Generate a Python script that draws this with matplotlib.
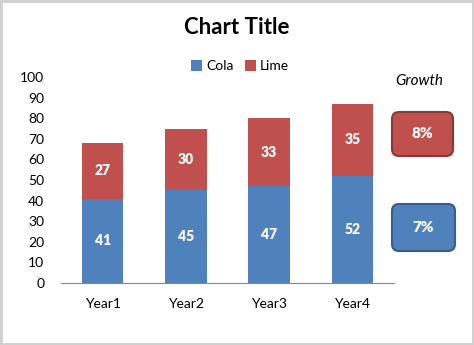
import matplotlib
matplotlib.use("Agg")
from matplotlib import pyplot as plt
from matplotlib.patches import FancyBboxPatch, Rectangle
import numpy as np

plt.rcParams['font.family'] = ['Lato', 'DejaVu Sans']

# chart data
years = ["Year1", "Year2", "Year3", "Year4"]
cola = [41, 45, 47, 52]
lime = [27, 30, 33, 35]
growth_lime = "8%"
growth_cola = "7%"

blue = "#4F81BD"
red = "#C0504D"

fig = plt.figure(figsize=(4.74, 3.45), dpi=100)
ax = fig.add_axes([61 / 474, 1 - 283 / 345, 333 / 474, 206 / 345])

x = np.arange(len(years))
b1 = ax.bar(x, cola, width=0.5, color=blue, label="Cola")
b2 = ax.bar(x, lime, width=0.5, bottom=cola, color=red, label="Lime")
ax.bar_label(b1, label_type="center", color="white", fontweight="heavy", fontsize=10)
ax.bar_label(b2, label_type="center", color="white", fontweight="heavy", fontsize=10)

ax.set_xlim(-0.5, len(years) - 0.5)
ax.set_ylim(0, 100)
ax.set_yticks(range(0, 101, 10))
ax.set_xticks(x, years)
ax.tick_params(axis="both", length=0, labelsize=10)
ax.tick_params(axis="y", pad=12)
ax.tick_params(axis="x", pad=11)
for s in ["left", "right", "top"]:
    ax.spines[s].set_visible(False)
ax.spines["bottom"].set_color("#868686")

fig.text(0.5, 1 - 28 / 345, "Chart Title", ha="center", va="center", fontsize=16, fontweight="bold")
fig.legend(handles=[b1, b2], labels=["Cola", "Lime"], loc="center", bbox_to_anchor=(240 / 474, 1 - 66 / 345),
           ncol=2, frameon=False, fontsize=10, handlelength=0.8, handleheight=0.8, handletextpad=0.3,
           columnspacing=0.8)

# growth boxes on the right (pixel coords -> inches)
def px_box(x0, y0, x1, y1, fc, ec, txt):
    h = 3.45
    p = FancyBboxPatch((x0 / 100, h - y1 / 100), (x1 - x0) / 100, (y1 - y0) / 100,
                       boxstyle="round,pad=0,rounding_size=0.07", fc=fc, ec=ec, lw=1.5,
                       transform=fig.dpi_scale_trans)
    fig.patches.append(p)
    fig.text((x0 + x1) / 2 / 474, 1 - (y0 + y1) / 2 / 345, txt, ha="center", va="center",
             color="white", fontweight="heavy", fontsize=11)

fig.text(419 / 474, 1 - 81 / 345, "Growth", ha="center", va="center", fontsize=11, style="italic")
px_box(392, 112, 453, 156, red, "#8C3836", growth_lime)
px_box(392, 204, 455, 251, blue, "#385D8A", growth_cola)

fig.patches.append(Rectangle((0, 0), 1, 1, transform=fig.transFigure, fill=False, ec="#D0D0D0", lw=3.5))

fig.savefig("out.png", dpi=100)
